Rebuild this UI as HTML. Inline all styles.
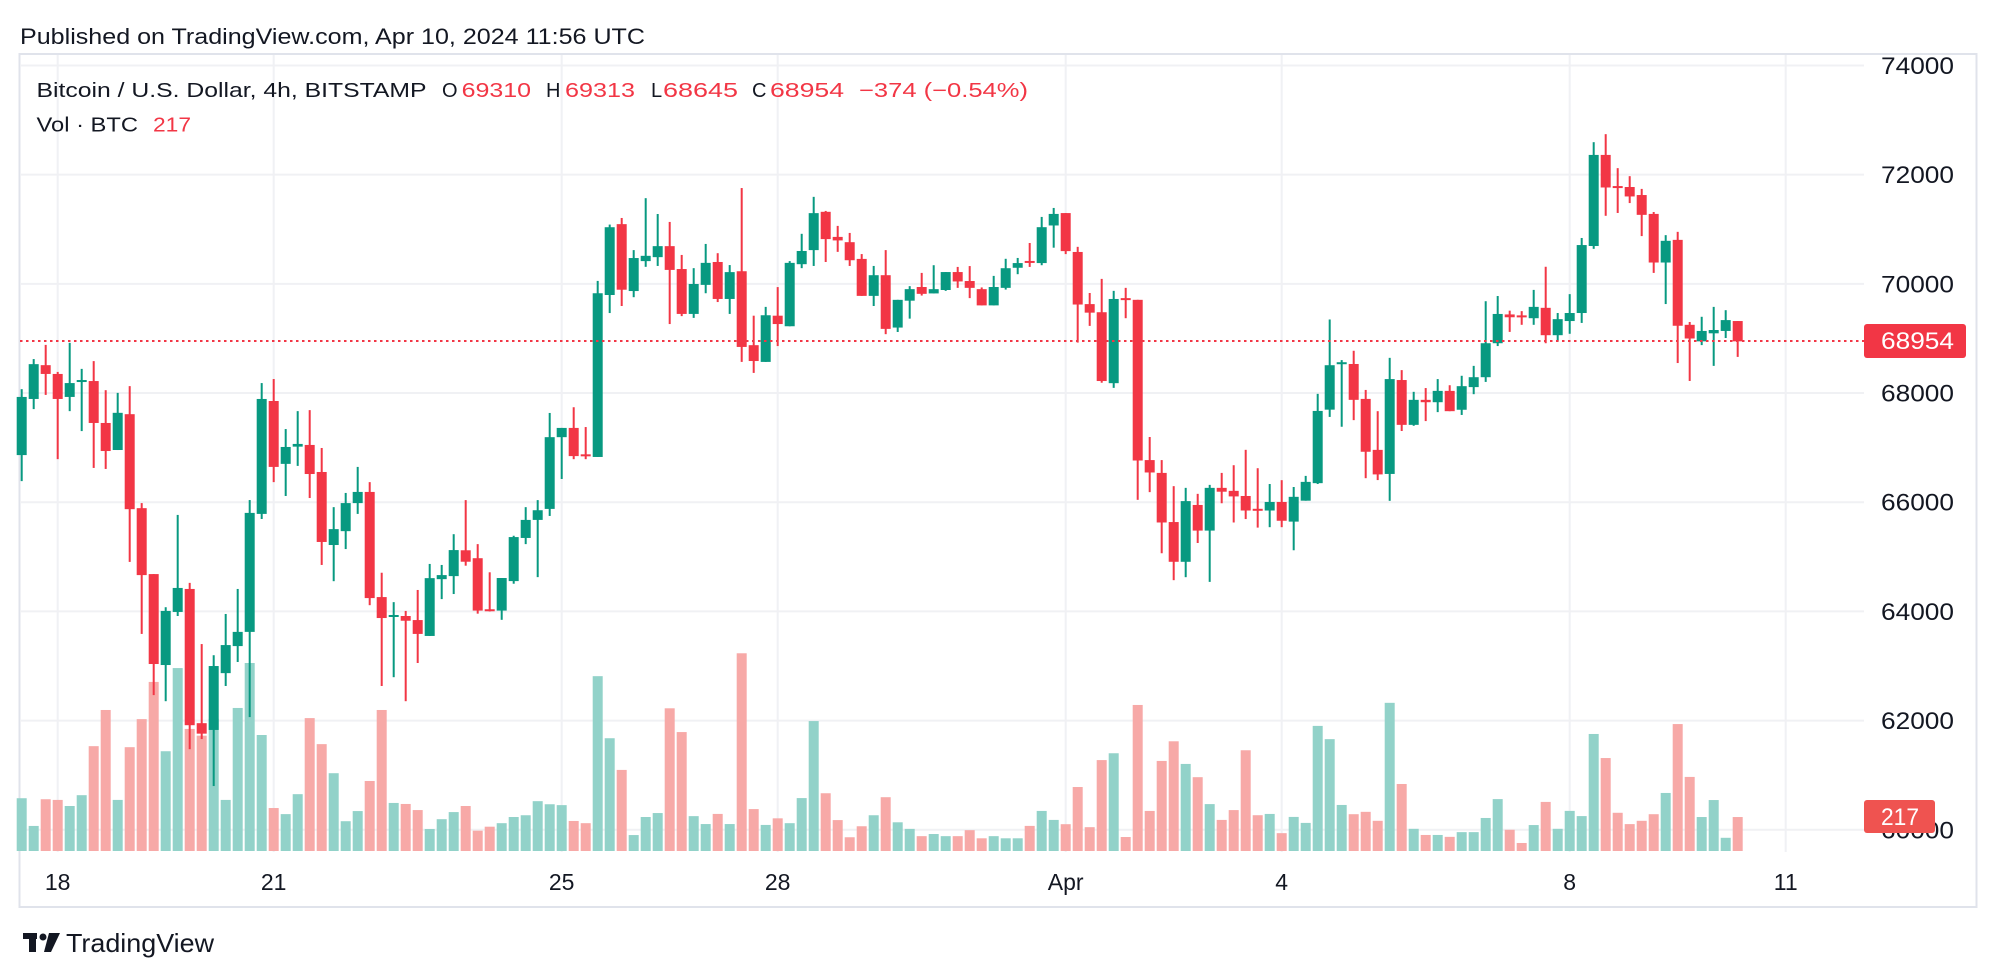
<!DOCTYPE html>
<html><head><meta charset="utf-8"><style>
html,body{margin:0;padding:0;background:#fff;}
svg{display:block;}
text{font-family:"Liberation Sans",sans-serif;}
</style></head><body>
<svg id="s" width="1996" height="978" xmlns="http://www.w3.org/2000/svg">
<rect width="1996" height="978" fill="#fff"/>
<text x="20" y="44" font-size="22" fill="#131722" textLength="625" lengthAdjust="spacingAndGlyphs">Published on TradingView.com, Apr 10, 2024 11:56 UTC</text>
<rect x="19.5" y="54" width="1957" height="853" fill="none" stroke="#e0e3eb" stroke-width="2"/>
<g id="grid"></g>
<g id="vol"></g>
<g id="cand"></g>
<line x1="20" y1="341" x2="1864" y2="341" stroke="#f23645" stroke-width="2" stroke-dasharray="2.5 3.5"/>
<g id="axis" font-size="24" fill="#131722"></g>
<rect x="1864" y="324" width="102" height="34" rx="3" fill="#f23645"/>
<text x="1881" y="349" font-size="24" fill="#fff" textLength="73" lengthAdjust="spacingAndGlyphs">68954</text>
<rect x="1864" y="800" width="71" height="33" rx="3" fill="#ef5350"/>
<text x="1881" y="825" font-size="24" fill="#fff" textLength="38" lengthAdjust="spacingAndGlyphs">217</text>
<g font-size="20">
<text x="36.5" y="97" fill="#131722" textLength="390" lengthAdjust="spacingAndGlyphs">Bitcoin / U.S. Dollar, 4h, BITSTAMP</text>
<text x="442" y="97" fill="#131722">O</text><text x="461.6" y="97" fill="#f23645" textLength="69.4" lengthAdjust="spacingAndGlyphs">69310</text>
<text x="546" y="97" fill="#131722">H</text><text x="565" y="97" fill="#f23645" textLength="70" lengthAdjust="spacingAndGlyphs">69313</text>
<text x="651" y="97" fill="#131722">L</text><text x="663" y="97" fill="#f23645" textLength="75" lengthAdjust="spacingAndGlyphs">68645</text>
<text x="752" y="97" fill="#131722">C</text><text x="770" y="97" fill="#f23645" textLength="74" lengthAdjust="spacingAndGlyphs">68954</text>
<text x="859" y="97" fill="#f23645" textLength="169" lengthAdjust="spacingAndGlyphs">−374 (−0.54%)</text>
<text x="36.5" y="131.5" fill="#131722" textLength="101.5" lengthAdjust="spacingAndGlyphs">Vol · BTC</text>
<text x="153" y="131.5" fill="#f23645" textLength="38" lengthAdjust="spacingAndGlyphs">217</text>
</g>
<g fill="#131722">
<rect x="23" y="933" width="14" height="6"/><rect x="29" y="933" width="7" height="19"/>
<circle cx="43" cy="937" r="3.5"/><polygon points="49,933 60,933 51,952 44,952"/>
</g>
<text x="66" y="952" font-size="26" fill="#131722" textLength="148" lengthAdjust="spacingAndGlyphs">TradingView</text>
</svg>
<script>
var NS="http://www.w3.org/2000/svg";
function el(p,t,a,txt){var e=document.createElementNS(NS,t);for(var k in a)e.setAttribute(k,a[k]);if(txt!==undefined)e.textContent=txt;document.getElementById(p).appendChild(e);return e;}
// grid
var prices=[74000,72000,70000,68000,66000,64000,62000,60000];
prices.forEach(function(p,i){var y=65.5+(74000-p)*0.05459;
 el('grid','line',{x1:20,x2:1864,y1:y,y2:y,stroke:'#f0f1f4','stroke-width':2});
});
var xl=[[57.7,'18'],[273.7,'21'],[561.7,'25'],[777.7,'28'],[1065.7,'Apr'],[1281.7,'4'],[1569.7,'8'],[1785.7,'11']];
xl.forEach(function(a){el('grid','line',{x1:a[0],x2:a[0],y1:55,y2:852,stroke:'#f0f1f4','stroke-width':2});
 el('axis','text',{x:a[0],y:890,'text-anchor':'middle','font-size':23},a[1]);});
prices.forEach(function(p){var y=65.5+(74000-p)*0.05459;
 el('axis','text',{x:1881,y:y+8.5,textLength:73,lengthAdjust:'spacingAndGlyphs'},String(p));});
// data segments: [color,bt,bb,wt,wb,vol]
var segs=[
{yo:330,k:2.958,d:[
[1,198,370,175,447,1385],[1,101,204,86,234,1467],[0,104,130,44,192,1388],[0,130,204,124,382,1390],[1,157,198,38,240,1408],[1,148,152,115,299,1376],[0,151,275,92,408,1231],[0,275,358,178,411,1124],[1,245,355,186,355,1390],[0,249,530,166,686,1234],[0,527,725,512,899,1151],[0,722,988,722,1080,1041],[1,831,991,820,1098,1246],[1,763,834,547,846,1000],[0,766,1169,748,1240,1180],[0,1163,1194,929,1210,1200],[1,994,1183,962,1349,1150],[1,932,1015,840,1053,1390],[1,893,935,766,982,1118],[1,541,893,503,1145,985],[1,204,544,157,559,1198],[0,210,405,145,450,1414],[1,346,396,293,491,1432],[1,337,345,240,402,1373],[0,340,426,237,497,1148],[0,420,627,349,695,1225],[1,589,636,524,743,1311],[1,512,595,482,648,1453],[1,479,512,405,544,1423],[0,479,793,450,814,1334],[0,790,852,718,1053,1124],[1,843,848,805,1027,1399],[0,846,860,831,1098,1402],[0,858,899,769,985,1420],[1,734,905,692,905,1476],[1,725,737,695,796,1447],[1,651,728,604,781,1426]]},
{yo:170,k:2.272,d:[
[0,864,890,750,899,1445],[0,882,1001,850,1008,1501],[0,998,1002,914,1003,1492],[1,927,1001,927,1022,1484],[1,834,934,831,940,1470],[1,795,836,766,850,1466],[1,773,795,750,925,1434],[1,607,770,552,786,1441],[1,586,607,586,702,1443],[0,586,650,539,657,1479],[0,646,650,584,657,1484],[1,280,652,252,652,1150],[1,130,284,124,325,1291],[0,123,272,109,309,1363],[1,200,275,182,289,1511],[1,195,207,64,220,1470],[1,173,198,100,218,1461],[0,173,227,118,350,1223],[0,225,327,193,332,1277],[1,259,327,223,336,1468],[1,211,261,168,280,1486],[0,209,293,189,300,1463],[1,232,293,216,327,1486],[0,230,402,41,436,1098],[0,398,434,331,461,1452],[1,330,436,311,436,1488],[0,331,350,266,400,1473],[1,211,355,207,355,1484],[1,184,214,145,223,1427],[1,98,182,61,218,1252],[0,95,157,93,209,1416],[0,152,160,127,186,1477],[0,164,205,143,218,1516],[0,202,286,191,286,1491],[1,239,286,218,309,1466],[0,239,361,182,373,1425],[1,295,358,295,368,1482]]},
{yo:190,k:2.34,d:[
[1,232,259,225,301,1495],[0,227,243,194,247,1512],[1,232,242,176,242,1507],[1,192,234,192,236,1512],[0,192,214,180,229,1512],[0,213,229,178,253,1498],[0,232,270,228,270,1517],[1,227,270,201,270,1512],[1,183,229,161,233,1517],[1,171,182,159,197,1517],[0,166,170,124,180,1488],[1,87,171,63,176,1453],[1,56,83,42,135,1474],[0,54,143,54,150,1484],[0,145,268,133,357,1397],[0,267,287,241,318,1491],[0,286,447,208,451,1334],[1,255,452,236,463,1318],[0,253,257,229,300,1514],[0,257,633,257,725,1205],[0,632,661,578,707,1453],[0,662,778,632,850,1336],[0,777,870,693,913,1290],[1,728,870,697,906,1343],[0,737,797,711,826,1374],[1,697,797,690,917,1437],[0,697,706,662,733,1474],[0,704,717,644,778,1451],[0,716,750,608,770,1311],[0,746,750,651,790,1463],[1,730,750,688,789,1460],[0,730,774,679,789,1505],[1,718,776,695,843,1467],[1,683,727,669,727,1481],[1,517,686,477,688,1254],[1,410,514,303,531,1285],[1,403,407,398,554,1439]]},
{yo:120,k:2.119,d:[
[0,517,593,489,636,1471],[0,591,703,572,759,1466],[0,699,751,617,763,1485],[1,549,750,504,807,1235],[0,551,646,530,659,1407],[1,593,646,576,648,1502],[0,593,598,568,638,1515],[1,574,598,549,619,1515],[0,574,617,562,617,1519],[1,564,614,542,625,1509],[1,545,566,521,581,1509],[1,473,545,384,555,1479],[1,411,473,373,479,1439],[0,412,418,404,449,1504],[0,414,418,405,434,1532],[1,396,420,360,434,1494],[0,398,456,311,473,1445],[1,422,456,409,469,1502],[1,409,426,369,453,1464],[1,265,409,250,430,1475],[1,74,267,47,273,1301],[0,74,143,30,203,1352],[0,140,144,102,197,1468],[0,142,162,119,176,1492],[0,159,201,146,246,1485],[0,199,302,195,324,1471],[1,256,302,244,390,1426],[0,254,436,237,515,1280],[0,434,463,428,553,1392],[1,447,469,417,477,1477],[1,445,452,396,521,1441],[1,424,447,403,462,1521],[0,426,469,426,502,1477]]}
];
var i=0;
segs.forEach(function(s){s.d.forEach(function(c){
 var x=21.7+12*i, f=function(v){return s.yo+v/s.k;};
 var col=c[0]?'#089981':'#f23645', vcol=c[0]?'#92d2c9':'#f7a9a7';
 var vt=f(c[5]); if(vt>849)vt=849;
 el('vol','rect',{x:x-5,y:vt,width:10,height:851-vt,fill:vcol});
 var wt=f(c[3]),wb=f(c[4]),bt=f(c[1]),bb=f(c[2]);
 el('cand','rect',{x:x-1,y:wt,width:2,height:Math.max(1,wb-wt),fill:col});
 el('cand','rect',{x:x-5,y:bt,width:10,height:Math.max(2,bb-bt),fill:col});
 i++;});});
</script>
</body></html>
